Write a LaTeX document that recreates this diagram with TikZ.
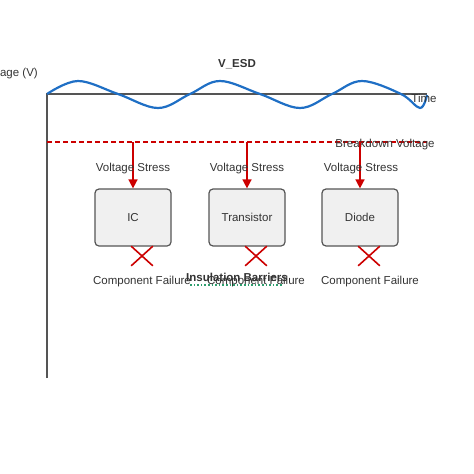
\documentclass[tikz,border=0pt]{standalone}
\usepackage{fontspec}
\setmainfont{Liberation Sans}
\usetikzlibrary{positioning,shapes.misc,arrows.meta}

\definecolor{axisgray}{HTML}{555555}
\definecolor{textgray}{HTML}{333333}
\definecolor{wavecol}{HTML}{1F6FC5}
\definecolor{stresscol}{HTML}{CC0000}
\definecolor{barriercol}{HTML}{2E9E6E}
\definecolor{boxfill}{HTML}{F0F0F0}

\tikzset{
  lbl/.style={text=textgray, font=\fontsize{11.5}{13}\selectfont, inner sep=0pt},
  ttl/.style={lbl, font=\fontsize{11.5}{13}\selectfont\bfseries},
  part/.style={lbl, draw=axisgray, fill=boxfill, rounded corners=4pt, line width=1.2pt,
               minimum width=76pt, minimum height=57pt},
  fail/.style={cross out, draw=stresscol, line width=1.6pt, minimum width=20pt,
               minimum height=18pt, inner sep=0pt},
  stressarrow/.style={draw=stresscol, line width=1.5pt, -{Triangle[length=9pt,width=9pt]}},
}

\begin{document}
\begin{tikzpicture}[x=1pt,y=-1pt]
            \useasboundingbox (0,0) rectangle (474,474);

            % axes
            \coordinate (o) at (47,94);
            \coordinate (tend) at (427,94);
            \coordinate (vend) at (47,378);
            \draw[axisgray, line width=1.5pt] (vend) -- (o) -- (tend);
            \node[lbl, anchor=east] (vlab) at (38,74) {Voltage (V)};
            \node[ttl] (vesd) at (237,64) {V\_ESD};

            % the pulse
            \draw[wavecol, line width=2.2pt] plot[smooth, tension=0.6] coordinates {
                (47,94) (78,81) (118,94) (158,108) (190,94) (220,81) (260,94)
                (300,108) (332,94) (362,81) (401,94) (420,108) (427,95)};
            \node[lbl] (tlab) at (424,98) {Time};

            % breakdown level
            \coordinate (bl) at (47,142);
            \coordinate (br) at (427,142);
            \draw[stresscol, line width=1.2pt, dash pattern=on 5pt off 3pt] (bl) -- (br);
            \node[lbl] (bdv) at (385,145) {Breakdown Voltage};

            % parts
            \node[part] (ic) at (133,217.5) {IC};
            \node[part] (tr) at (247,217.5) {Transistor};
            \node[part] (di) at (360,217.5) {Diode};

            \coordinate (icb) at (133,142);
            \coordinate (trb) at (247,142);
            \coordinate (dib) at (360,142);
            \draw[stressarrow] (icb) -- (ic.north);
            \draw[stressarrow] (trb) -- (tr.north);
            \draw[stressarrow] (dib) -- (di.north);
            \node[lbl] (ics) at (133,169) {Voltage Stress};
            \node[lbl] (trs) at (247,169) {Voltage Stress};
            \node[lbl] (dis) at (361,169) {Voltage Stress};

            \node[fail] (icx) at (142,256) {};
            \node[fail] (trx) at (256,256) {};
            \node[fail] (dix) at (369,256) {};

            % barrier
            \coordinate (insl) at (190,285);
            \coordinate (insr) at (282,285);
            \draw[barriercol, dotted, line width=1.6pt] (insl) -- (insr);
            \node[ttl] (ins) at (237,277) {Insulation Barriers};

            \node[lbl] (icf) at (142,282) {Component Failure};
            \node[lbl] (trf) at (256,282) {Component Failure};
            \node[lbl] (dif) at (370,282) {Component Failure};
        \end{tikzpicture}
\end{document}
